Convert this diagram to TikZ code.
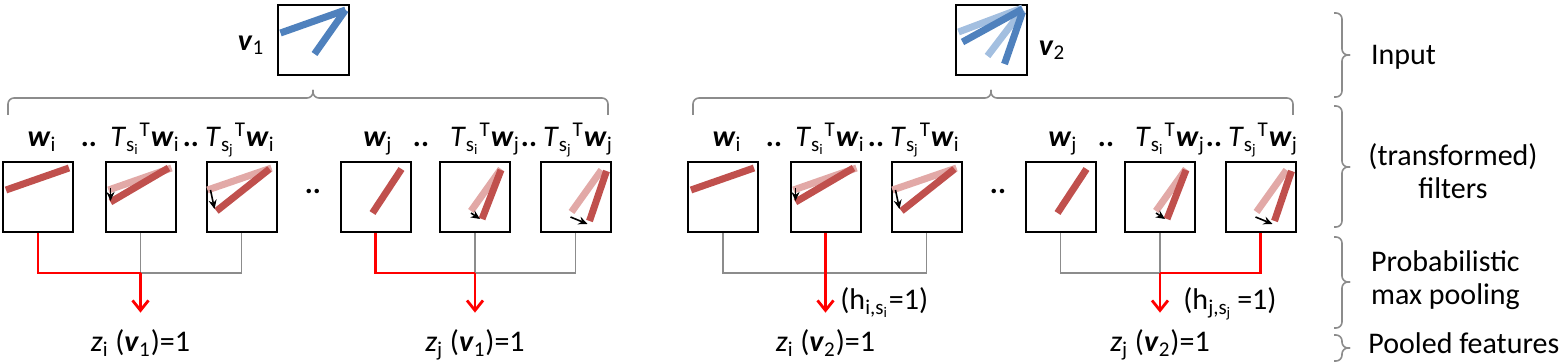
\documentclass[tikz,border=0pt]{standalone}
\usepackage{fontspec}
\setmainfont{Carlito}
\usetikzlibrary{arrows.meta,calc}
\definecolor{filt}{HTML}{C0504D}
\definecolor{filtlt}{HTML}{E2A9A7}
\definecolor{inp}{HTML}{4F81BD}
\definecolor{inplt}{HTML}{A3BFE0}
\definecolor{hitred}{HTML}{FF0000}
\definecolor{soft}{HTML}{8C8C8C}
\newcommand{\filw}[1]{\textbf{\textit{w}}\textsubscript{#1}}
\newcommand{\inpv}[1]{\textbf{\textit{v}}\textsubscript{#1}}
\newcommand{\trT}[1]{\textit{T}\textsubscript{s\textsubscript{#1}}\textsuperscript{T}}

\begin{document}
\begin{tikzpicture}[x=0.5pt, y=-0.5pt, font=\fontsize{15}{16.5}\selectfont,
    box/.style={draw, line width=1pt, inner sep=0pt, minimum width=35pt, minimum height=35pt},
    bar/.style={filt, line width=3.5pt},
    barlt/.style={filtlt, line width=3.5pt},
    ray/.style={inp, line width=3.5pt},
    raylt/.style={inplt, line width=3.5pt},
    nudge/.style={-{Stealth[length=4.5pt, width=4pt]}, line width=0.8pt},
    wire/.style={soft, line width=0.9pt},
    hit/.style={hitred, line width=1.4pt},
    drop/.style={hit, -{Straight Barb[length=5pt, width=8pt]}, shorten >=8.5pt},
    curly/.style={soft, line width=0.8pt, rounded corners=3pt},
    lbl/.style={anchor=base, inner sep=0pt}]
    \useasboundingbox (0,0) rectangle (1560,363);
    % Inputs: the two patches v1 and v2.
    \node[box, minimum width=35.5pt] (vL) at (313,40) {};
    \node[box, minimum width=35.5pt] (vR) at (991,40) {};
    \node (vLlab) at (251,45) {\inpv{1}};
    \node (vRlab) at (1052,50) {\inpv{2}};
    \begin{scope}[shift={(vL.north west)}]
      \draw[ray] (4,29) -- (69,6);
      \draw[ray] (38,50) -- (69,6);
    \end{scope}
    \begin{scope}[shift={(vR.north west)}]
      \draw[raylt] (4,28) -- (68,4);
      \draw[raylt] (33,52) -- (68,6);
      \draw[ray] (8,38) -- (68,5);
      \draw[ray] (50,60) -- (68,8);
    \end{scope}
    % One group of filters under each input.
    \foreach \g/\s/\v in {0/L/1, 685/R/2} {
      \foreach \i/\x in {1/38, 2/140.5, 3/241.5, 4/375.5, 5/475, 6/575.5}
        \node[box] (\s\i) at (\g+\x,197) {};
      % Brace from the input down to its filters.
      \draw[curly] (\g+8,115) -- (\g+8,98) -- (v\s.south |- 0,98) -- (v\s.south |- 0,90);
      \draw[curly] (\g+608,115) -- (\g+608,98) -- (v\s.south |- 0,98) -- (v\s.south |- 0,90);
      % Filter names.
      \node[lbl] (\s n1) at (\g+42,147) {\filw{i}};
      \node[lbl] (\s n2) at (\g+145,147) {\trT{i}\filw{i}};
      \node[lbl] (\s n3) at (\g+240,147) {\trT{j}\filw{i}};
      \node[lbl] (\s n4) at (\g+378,147) {\filw{j}};
      \node[lbl] (\s n5) at (\g+485,147) {\trT{i}\filw{j}};
      \node[lbl] (\s n6) at (\g+578,147) {\trT{j}\filw{j}};
      \foreach \x in {89, 191, 421, 529}
        \node[lbl] at (\g+\x,147) {\textbf{..}};
      \node (\s gap) at (\g+313,191) {\textbf{..}};
      % The bars and their shifts.
      \begin{scope}[shift={(\s1.north west)}]
        \draw[bar] (4,29) -- (67,7);
      \end{scope}
      \begin{scope}[shift={(\s2.north west)}]
        \draw[barlt] (4,29) -- (67,7);
        \draw[bar] (6,41) -- (64,7);
        \draw[nudge] (6,27) -- (6,40);
      \end{scope}
      \begin{scope}[shift={(\s3.north west)}]
        \draw[barlt] (2,29) -- (66,7);
        \draw[bar] (11,50) -- (64,8);
        \draw[nudge] (5,29) -- (9,48);
      \end{scope}
      \begin{scope}[shift={(\s4.north west)}]
        \draw[bar] (33,52) -- (62,8);
      \end{scope}
      \begin{scope}[shift={(\s5.north west)}]
        \draw[barlt] (32,50) -- (62,8);
        \draw[bar] (43,58) -- (62,9);
        \draw[nudge] (32,52) -- (41,58);
      \end{scope}
      \begin{scope}[shift={(\s6.north west)}]
        \draw[barlt] (32,51) -- (62,9);
        \draw[bar] (50,60) -- (67,10);
        \draw[nudge] (31,56) -- (48,63);
      \end{scope}
      % Pooled outputs.
      \node[lbl] (z\s1) at (\s2.south |- 0,352) {\textit{z}\textsubscript{i} (\inpv{\v})=1};
      \node[lbl] (z\s2) at (\s5.south |- 0,352) {\textit{z}\textsubscript{j} (\inpv{\v})=1};
      \coordinate (j\s1) at (\s2.south |- 0,273);
      \coordinate (j\s2) at (\s5.south |- 0,273);
    }
    % Pooling for v1: the plain filters win.
    \draw[wire] (L2.south) -- (jL1);
    \draw[wire] (L3.south) |- (jL1);
    \draw[hit] (L1.south) |- (jL1);
    \draw[drop] (jL1) -- (zL1);
    \draw[wire] (L5.south) -- (jL2);
    \draw[wire] (L6.south) |- (jL2);
    \draw[hit] (L4.south) |- (jL2);
    \draw[drop] (jL2) -- (zL2);
    % Pooling for v2: the transformed filters win.
    \draw[wire] (R1.south) |- (jR1);
    \draw[wire] (R3.south) |- (jR1);
    \draw[drop] (R2.south) -- (zR1);
    \draw[wire] (R4.south) |- (jR2);
    \draw[wire] (R5.south) -- (jR2);
    \draw[hit] (R6.south) |- (jR2);
    \draw[drop] (jR2) -- (zR2);
    \node[lbl, anchor=base west] (hR1) at (840,310) {(h\textsubscript{i,s\textsubscript{i}}=1)};
    \node[lbl, anchor=base west] (hR2) at (1183,310) {(h\textsubscript{j,s\textsubscript{j}}\,=1)};
    % Stage names on the right.
    \foreach \a/\b/\m in {13/97/55, 106/227/167, 237/328/282, 335/361/348} {
      \draw[curly] (1334,\a) -- (1342,\a) -- (1342,\m) -- (1350,\m);
      \draw[curly] (1334,\b) -- (1342,\b) -- (1342,\m) -- (1350,\m);
    }
    \node[anchor=west] (sIn) at (1364,57) {Input};
    \node[align=center] (sFil) at (1453,171) {(transformed)\\filters};
    \node[anchor=west, align=left] (sPool) at (1364,280) {Probabilistic\\max pooling};
    \node[lbl, anchor=base west] (sOut) at (1368,354) {Pooled features};
  \end{tikzpicture}
\end{document}
